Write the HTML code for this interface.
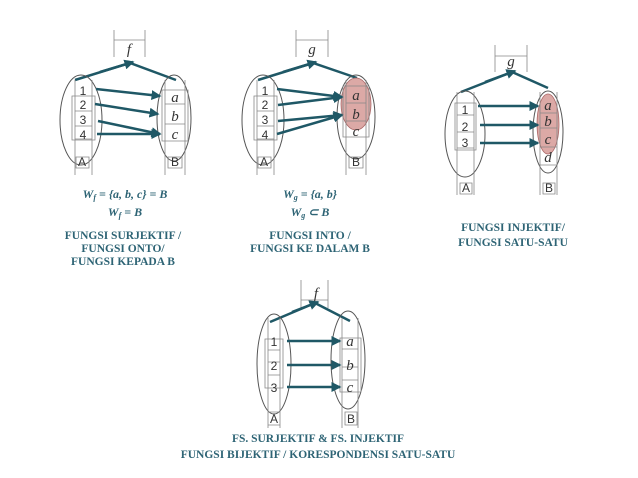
<!DOCTYPE html>
<html><head><meta charset="utf-8"><style>
html,body{margin:0;padding:0;background:#fff;}
svg{display:block;}
.t{font-family:"Liberation Serif",serif;font-weight:bold;fill:#2e6475;font-size:11.5px;text-anchor:middle;}
.m{font-family:"Liberation Serif",serif;font-weight:bold;font-style:italic;fill:#2e6475;font-size:12px;text-anchor:middle;}
.n{font-family:"Liberation Sans",sans-serif;fill:#333;font-size:12px;text-anchor:middle;}
.l{font-family:"Liberation Serif",serif;font-style:italic;fill:#333;font-size:15px;text-anchor:middle;}
.b{fill:none;stroke:#888;stroke-width:0.8;}
.e{fill:none;stroke:#555;stroke-width:1;}
.a{stroke:#1f5866;stroke-width:2.5;fill:none;}
</style></head><body>
<svg width="638" height="478" viewBox="0 0 638 478" xmlns="http://www.w3.org/2000/svg">
<defs><marker id="ar" markerWidth="4" markerHeight="4" refX="3.4" refY="2" orient="auto" markerUnits="strokeWidth"><path d="M0,0 L4,2 L0,4 z" fill="#1f5866"/></marker></defs>

<!-- Diagram 1 -->
<g>
<path class="b" d="M114,30 V57 M145,30 V57 M114,40 H145"/><text class="l" x="129" y="54">f</text>
<path class="a" d="M75,80 L130,63 L176,80"/><line class="a" x1="100" y1="72" x2="133" y2="62" marker-end="url(#ar)"/>
<ellipse class="e" cx="81" cy="120" rx="21" ry="45"/>
<ellipse class="e" cx="174" cy="118" rx="17" ry="43"/>
<path class="b" d="M75,80 V175 M92,80 V175 M72,96 H95 V140 H72 Z M75,96 H92 M75,111 H92 M75,126 H92 M75,139 H92 M76,157 H89 V168 H76Z"/>
<text class="n" x="83" y="95">1</text><text class="n" x="83" y="109">2</text><text class="n" x="83" y="124">3</text><text class="n" x="83" y="139">4</text>
<text class="n" x="82" y="166">A</text>
<path class="b" d="M165,80 V175 M185,80 V175 M162,90 H188 V141 H162Z M165,104 H185 M165,124 H185 M168,157 H182 V168 H168Z"/>
<text class="l" x="175" y="102">a</text><text class="l" x="175" y="121">b</text><text class="l" x="175" y="139">c</text>
<text class="n" x="175" y="166">B</text>
<line class="a" x1="96" y1="89" x2="160" y2="96" marker-end="url(#ar)"/>
<line class="a" x1="95" y1="104" x2="158" y2="114" marker-end="url(#ar)"/>
<line class="a" x1="98" y1="121" x2="160" y2="134" marker-end="url(#ar)"/>
<line class="a" x1="97" y1="134" x2="160" y2="134" marker-end="url(#ar)"/>
<text class="m" x="125" y="198">W<tspan font-size="8" dy="2">f</tspan><tspan dy="-2"> = {a, b, c} = B</tspan></text>
<text class="m" x="125" y="216">W<tspan font-size="8" dy="2">f</tspan><tspan dy="-2"> = B</tspan></text>
<text class="t" x="123" y="239">FUNGSI SURJEKTIF /</text>
<text class="t" x="123" y="252">FUNGSI ONTO/</text>
<text class="t" x="123" y="265">FUNGSI KEPADA B</text>
</g>

<!-- Diagram 2 -->
<g>
<path class="b" d="M296,30 V57 M328,30 V57 M296,40 H328"/><text class="l" x="312" y="54">g</text>
<path class="a" d="M258,80 L313,63 L357,78"/><line class="a" x1="283" y1="72" x2="316" y2="62" marker-end="url(#ar)"/>
<ellipse class="e" cx="263" cy="120" rx="21" ry="45"/>
<ellipse class="e" cx="356" cy="117" rx="19" ry="42"/>
<ellipse cx="356" cy="104" rx="15" ry="26" fill="#dca9a6" stroke="#a66" stroke-width="0.8"/>
<path class="b" d="M257,80 V175 M274,80 V175 M254,96 H277 V140 H254 Z M257,96 H274 M257,111 H274 M257,126 H274 M257,139 H274 M258,157 H271 V168 H258Z"/>
<text class="n" x="265" y="95">1</text><text class="n" x="265" y="109">2</text><text class="n" x="265" y="124">3</text><text class="n" x="265" y="139">4</text>
<text class="n" x="264" y="166">A</text>
<path class="b" d="M346,80 V175 M366,80 V175 M343,86 H369 V137 H343Z M346,103 H366 M346,121 H366 M349,157 H363 V168 H349Z"/>
<text class="l" x="356" y="100">a</text><text class="l" x="356" y="119">b</text><text class="l" x="356" y="136">c</text>
<text class="n" x="356" y="166">B</text>
<line class="a" x1="277" y1="89" x2="342" y2="97" marker-end="url(#ar)"/>
<line class="a" x1="278" y1="105" x2="342" y2="97" marker-end="url(#ar)"/>
<line class="a" x1="278" y1="121" x2="342" y2="115" marker-end="url(#ar)"/>
<line class="a" x1="277" y1="134" x2="342" y2="115" marker-end="url(#ar)"/>
<text class="m" x="310" y="198">W<tspan font-size="8" dy="2">g</tspan><tspan dy="-2"> = {a, b}</tspan></text>
<text class="m" x="310" y="216">W<tspan font-size="8" dy="2">g</tspan><tspan dy="-2"> ⊂ B</tspan></text>
<text class="t" x="310" y="239">FUNGSI INTO /</text>
<text class="t" x="310" y="252">FUNGSI KE DALAM B</text>
</g>

<!-- Diagram 3 -->
<g>
<path class="b" d="M495,45 V72 M527,45 V72 M495,56 H527"/><text class="l" x="511" y="66">g</text>
<path class="a" d="M461,92 L512,72 L548,88"/><line class="a" x1="485" y1="82" x2="515" y2="71" marker-end="url(#ar)"/>
<ellipse class="e" cx="465" cy="134" rx="20" ry="43"/>
<ellipse class="e" cx="548" cy="132" rx="15" ry="41"/>
<ellipse cx="548" cy="124" rx="11" ry="30" fill="#dca9a6" stroke="#a66" stroke-width="0.8"/>
<path class="b" d="M457,92 V195 M474,92 V195 M455,103 H476 V150 H455Z M457,115 H474 M457,132 H474 M457,148 H474 M460,183 H472 V194 H460Z"/>
<text class="n" x="465" y="114">1</text><text class="n" x="465" y="131">2</text><text class="n" x="465" y="147">3</text>
<text class="n" x="466" y="192">A</text>
<path class="b" d="M540,92 V195 M557,92 V195 M540,113 H557 M540,128 H557 M540,147 H557 M540,165 H557 M543,183 H555 V194 H543Z"/>
<text class="l" x="548" y="110">a</text><text class="l" x="548" y="126">b</text><text class="l" x="548" y="144">c</text><text class="l" x="548" y="162">d</text>
<text class="n" x="549" y="192">B</text>
<line class="a" x1="478" y1="106" x2="538" y2="106" marker-end="url(#ar)"/>
<line class="a" x1="480" y1="125" x2="538" y2="125" marker-end="url(#ar)"/>
<line class="a" x1="480" y1="143" x2="538" y2="143" marker-end="url(#ar)"/>
<text class="t" x="513" y="231">FUNGSI INJEKTIF/</text>
<text class="t" x="513" y="246">FUNGSI SATU-SATU</text>
</g>

<!-- Diagram 4 -->
<g>
<path class="b" d="M301,280 V308 M328,280 V308 M301,300 H328"/><text class="l" x="316" y="298">f</text>
<path class="a" d="M270,322 L315,303 L350,321"/><line class="a" x1="292" y1="312" x2="318" y2="302" marker-end="url(#ar)"/>
<ellipse class="e" cx="274" cy="364" rx="17" ry="50"/>
<ellipse class="e" cx="348" cy="360" rx="17" ry="49"/>
<path class="b" d="M268,318 V428 M280,318 V428 M265,339 H283 V388 H265Z M268,350 H280 M268,362 H280 M268,375 H280 M268,412 H280 V425 H268Z"/>
<text class="n" x="274" y="346">1</text><text class="n" x="274" y="370">2</text><text class="n" x="274" y="392">3</text>
<text class="n" x="274" y="423">A</text>
<path class="b" d="M342,318 V428 M358,318 V428 M340,338 H361 V392 H340Z M342,349 H358 M342,367 H358 M342,380 H358 M345,412 H357 V425 H345Z"/>
<text class="l" x="350" y="346">a</text><text class="l" x="350" y="370">b</text><text class="l" x="350" y="392">c</text>
<text class="n" x="351" y="423">B</text>
<line class="a" x1="287" y1="341" x2="340" y2="341" marker-end="url(#ar)"/>
<line class="a" x1="287" y1="365" x2="340" y2="365" marker-end="url(#ar)"/>
<line class="a" x1="287" y1="387" x2="340" y2="387" marker-end="url(#ar)"/>
<text class="t" x="318" y="442">FS. SURJEKTIF  &amp; FS. INJEKTIF</text>
<text class="t" x="318" y="458">FUNGSI BIJEKTIF / KORESPONDENSI SATU-SATU</text>
</g>
</svg>
</body></html>
